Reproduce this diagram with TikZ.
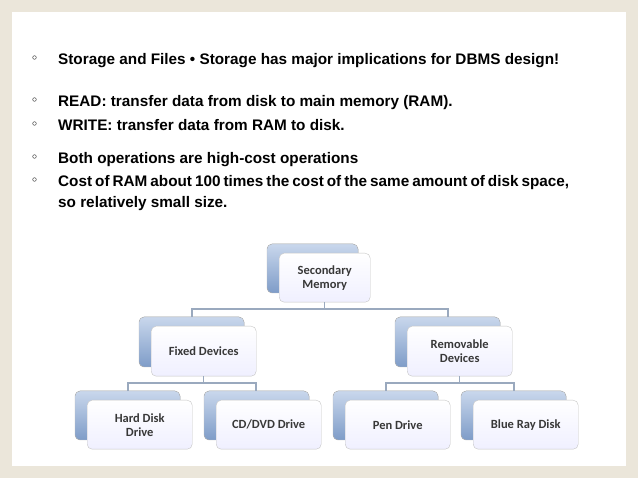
\documentclass[tikz,border=0pt]{standalone}
\usepackage{fontspec}
\setmainfont{Liberation Sans}
\newfontfamily\carl{Carlito}
\definecolor{bg}{HTML}{EBE6DA}
\definecolor{bkt}{HTML}{C9D7EC}
\definecolor{bkb}{HTML}{7E9CC8}
\definecolor{lnc}{HTML}{9AA9BE}
\begin{document}
\begin{tikzpicture}[x=1pt,y=-1pt,
 bk/.style={rounded corners=5pt,top color=bkt,bottom color=bkb,draw=gray!50},
 fr/.style={rounded corners=5pt,draw=gray!45,top color=white,bottom color=blue!6,align=center,font=\carl\bfseries\fontsize{12.5}{14}\selectfont,text=black!78},
 ln/.style={draw=lnc,line width=1.3pt},
 bt/.style={anchor=north west,text width=511pt,align=justify,font=\bfseries\fontsize{15.3}{21}\selectfont,inner sep=0pt},
 bl/.style={anchor=north west,inner sep=0pt,font=\fontsize{10}{12}\selectfont}]
\fill[bg] (0,0) rectangle (638,478);
\fill[white] (12,12) rectangle (626,466);
% bullets
\foreach \y in {56,98,122,155,178} \node[bl] at (32,\y) {$\circ$};
\node[bt] (t1) at (58,53) {Storage and Files • Storage has major implications for DBMS design!};
\node[bt] (t2) at (58,95) {READ: transfer data from disk to main memory (RAM).};
\node[bt] (t3) at (58,119) {WRITE: transfer data from RAM to disk.};
\node[bt] (t4) at (58,152) {Both operations are high-cost operations};
\node[bt] (t5) at (58,175) {Cost of RAM about 100 times the cost of the same amount of disk space, so relatively small size.};
% boxes
\newcommand\bx[6]{%
 \fill[bk] (#2-12,#3-9) rectangle ++(#4,#5);
 \node[fr,minimum width=#4 pt,minimum height=#5 pt,anchor=north west] (#1) at (#2,#3) {#6};}
\bx{sm}{279}{253}{91}{49}{Secondary\\Memory}
\bx{fd}{151}{326}{105}{50}{Fixed Devices}
\bx{rd}{407}{326}{105}{50}{Removable\\Devices}
\bx{hd}{87}{400}{105}{49}{Hard Disk\\Drive}
\bx{cd}{216}{400}{105}{49}{CD/DVD Drive}
\bx{pd}{345}{400}{105}{49}{Pen Drive}
\bx{br}{473}{400}{105}{49}{Blue Ray Disk}
\coordinate (a1) at (192,309);
\coordinate (a2) at (448,309);
\coordinate (b1) at (128,383);
\coordinate (b2) at (256,383);
\coordinate (c1) at (386,383);
\coordinate (c2) at (514,383);
\draw[ln] (sm.south) -- (sm.south|-a1);
\draw[ln] (192,317) -- (a1) -- (a2) -- (448,317);
\draw[ln] (fd.south) -- (fd.south|-b1);
\draw[ln] (128,391) -- (b1) -- (b2) -- (256,391);
\draw[ln] (rd.south) -- (rd.south|-c1);
\draw[ln] (386,391) -- (c1) -- (c2) -- (514,391);
\end{tikzpicture}
\end{document}
